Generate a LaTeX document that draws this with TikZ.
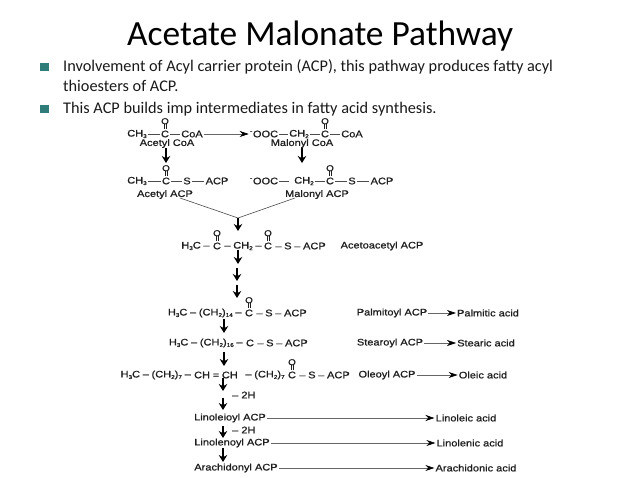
\documentclass[tikz,border=0pt]{standalone}
\usepackage{fontspec}
\usepackage{xcolor}
\setmainfont{Carlito}
\newfontfamily\chemfont[FakeStretch=1.16,FakeBold=0.9]{Liberation Sans}
\usetikzlibrary{arrows.meta,positioning}
\definecolor{bulletteal}{RGB}{46,125,120}
\definecolor{inkgray}{RGB}{30,30,30}
\tikzset{
  atom/.style={font=\chemfont\fontsize{9.5}{11}\selectfont, text=inkgray, inner sep=1pt},
  chain/.style={atom, execute at begin node={\spaceskip=2.7pt}},
  lbl/.style={atom, anchor=west},
  oxygen/.style={atom, inner sep=0pt, font=\chemfont\fontsize{8.5}{10}\selectfont},
  bond/.style={thick, inkgray!80},
  dbl/.style={line width=0.7pt, inkgray},
  thinarrow/.style={semithick, gray!80!black, -{Stealth[length=9pt,width=6pt,color=black]}},
  downarrow/.style={line width=1.4pt, black, -{Stealth[length=7pt,width=8.5pt]}},
  bullet/.style={fill=bulletteal, minimum size=8.5pt, inner sep=0pt},
  bodytext/.style={font=\fontsize{16.3}{18}\selectfont, anchor=base west, inner sep=0pt, text=black!90}
}
\newcommand{\oxo}[2]{\node[oxygen, above=5pt of #2] (#1) {O};
  \draw[dbl] ([xshift=-1pt]#1.south) -- ([xshift=-1pt]#2.north);
  \draw[dbl] ([xshift=1pt]#1.south) -- ([xshift=1pt]#2.north);}
\newcommand{\sbs}[1]{\raisebox{-1.5pt}{\fontsize{5.5}{6}\selectfont #1}}
\begin{document}
\begin{tikzpicture}[x=1pt,y=-1pt]
  \useasboundingbox (0,0) rectangle (638,478);
  % heading
  \node[anchor=base west, inner sep=0pt, font=\fontsize{35.4}{40}\selectfont] (title) at (127,46) {Acetate Malonate Pathway};
  \node[bullet] (bulleta) at (44.5,67) {};
  \node[bullet] (bulletb) at (44.5,109) {};
  \node[bodytext] (linea) at (63,72) {Involvement of Acyl carrier protein (ACP), this pathway produces fatty acyl};
  \node[bodytext] (lineb) at (63,91.5) {thioesters of ACP.};
  \node[bodytext] (linec) at (63,114) {This ACP builds imp intermediates in fatty acid synthesis.};

  % acetyl coa, malonyl coa
  \node[atom] (cha) at (137,134) {CH\sbs{3}};
  \node[atom] (ca) at (165,134) {C};
  \node[atom] (coaa) at (192,134) {CoA};
  \draw[bond] (cha) -- (ca);
  \draw[bond] (ca) -- (coaa);
  \oxo{oa}{ca}
  \node[atom] (ooca) at (264,134) {\textsuperscript{-}OOC};
  \node[atom] (chb) at (299,134) {CH\sbs{2}};
  \node[atom] (cb) at (325,134) {C};
  \node[atom] (coab) at (352,134) {CoA};
  \draw[bond] (ooca) -- (chb);
  \draw[bond] (chb) -- (cb);
  \draw[bond] (cb) -- (coab);
  \oxo{ob}{cb}
  \draw[thinarrow] (coaa) -- (ooca);
  \node[atom] (acetylcoa) at (167,143.5) {Acetyl CoA};
  \node[atom] (malonylcoa) at (302,143.5) {Malonyl CoA};

  % acetyl acp, malonyl acp
  \node[atom] (chc) at (137,181) {CH\sbs{3}};
  \node[atom] (cc) at (166,181) {C};
  \node[atom] (sc) at (187,181) {S};
  \node[atom] (acpc) at (217,181) {ACP};
  \draw[bond] (chc) -- (cc);
  \draw[bond] (cc) -- (sc);
  \draw[bond] (sc) -- (acpc);
  \oxo{oc}{cc}
  \node[atom] (oocd) at (264,181) {\textsuperscript{-}OOC};
  \node[atom] (chd) at (304,181) {CH\sbs{2}};
  \node[atom] (cd) at (330,181) {C};
  \node[atom] (sd) at (352,181) {S};
  \node[atom] (acpd) at (382,181) {ACP};
  \draw[bond] (oocd) -- +(25,0) coordinate (oocdend);
  \draw[bond] (chd) -- (cd);
  \draw[bond] (cd) -- (sd);
  \draw[bond] (sd) -- (acpd);
  \oxo{od}{cd}
  \node[atom] (acetylacp) at (165,194.5) {Acetyl ACP};
  \node[atom] (malonylacp) at (317,194.5) {Malonyl ACP};
  \coordinate (acetylend) at (180,198);
  \coordinate (malonylend) at (295,198);
  \coordinate (merge) at (238,218);
  \draw[semithick, inkgray!80] (acetylend) -- (merge) -- (malonylend);

  % acetoacetyl acp
  \node[atom] (ce) at (217,246) {C};
  \node[chain, left=1pt of ce] (he) {H\sbs{3}C –};
  \node[atom] (cf) at (268,246) {C};
  \node[chain] (mide) at (243,246) {– CH\sbs{2} –};
  \node[chain, right=1pt of cf] (acpe) {– S – ACP};
  \oxo{oe}{ce}
  \oxo{of}{cf}
  \node[atom] (acetoacetyl) at (382,246) {Acetoacetyl ACP};

  % palmitoyl
  \node[atom] (cg) at (249,313) {C};
  \node[chain, left=1pt of cg] (hg) {H\sbs{3}C – (CH\sbs{2})\sbs{14} –};
  \node[chain, right=1pt of cg] (acpg) {– S – ACP};
  \oxo{og}{cg}
  \node[atom] (palmitoyl) at (392,313) {Palmitoyl ACP};
  \node[atom] (palmitic) at (488,313) {Palmitic acid};
  \draw[thinarrow] (palmitoyl) -- (palmitic);

  % stearoyl
  \node[atom] (ch) at (250,343) {C};
  \node[chain, left=1pt of ch] (hh) {H\sbs{3}C – (CH\sbs{2})\sbs{16} –};
  \node[chain, right=1pt of ch] (acph) {– S – ACP};
  \node[atom] (stearoyl) at (390,343) {Stearoyl ACP};
  \node[atom] (stearic) at (486,343) {Stearic acid};
  \draw[thinarrow] (stearoyl) -- (stearic);

  % oleoyl
  \node[atom] (ci) at (292,375) {C};
  \node[chain] (chchi) at (216,375) {CH = CH};
  \node[chain, left=1pt of chchi] (hi) {H\sbs{3}C – (CH\sbs{2})\sbs{7} –};
  \node[chain, left=1pt of ci] (chi) {– (CH\sbs{2})\sbs{7}};
  \node[chain, right=1pt of ci] (acpi) {– S – ACP};
  \oxo{oi}{ci}
  \node[atom] (oleoyl) at (387,375) {Oleoyl ACP};
  \node[atom] (oleic) at (483,375) {Oleic acid};
  \draw[thinarrow] (oleoyl) -- (oleic);

  % linoleoyl and the rest
  \node[atom] (linoleioyl) at (230,418) {Linoleioyl ACP};
  \node[atom] (linoleic) at (466,418) {Linoleic acid};
  \draw[thinarrow] (linoleioyl) -- (linoleic);
  \node[atom] (linolenoyl) at (232,443) {Linolenoyl ACP};
  \node[atom] (linolenic) at (470,443) {Linolenic acid};
  \draw[thinarrow] (linolenoyl) -- (linolenic);
  \node[atom] (arachidonyl) at (236,468) {Arachidonyl ACP};
  \node[atom] (arachidonic) at (476,468) {Arachidonic acid};
  \draw[thinarrow] (arachidonyl) -- (arachidonic);
  \node[lbl] (twoha) at (231,395) {– 2H};
  \node[lbl] (twohb) at (231,430) {– 2H};

  % down arrows
  \foreach \nm/\xx/\ya/\yb in {da/166/148/163, db/302/148/163, dc/238/218/231, dd/238/250/264,
      de/237/268/281, df/237/285/298, dg/224/319/333, dh/224/352/366, di/223/378/391,
      dj/223/398/410, dk/223/426/438, dl/223/448/462} {
    \coordinate (\nm top) at (\xx,\ya);
    \coordinate (\nm tip) at (\xx,\yb);
    \draw[downarrow] (\nm top) -- (\nm tip);
  }
\end{tikzpicture}
\end{document}
